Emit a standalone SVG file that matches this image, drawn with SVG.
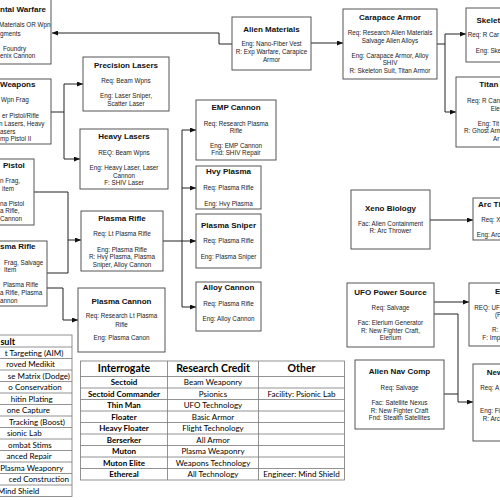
<svg xmlns="http://www.w3.org/2000/svg" width="500" height="500" viewBox="0 0 500 500">
<defs>
<marker id="ah" markerWidth="6" markerHeight="5" refX="6" refY="2.5" orient="auto" markerUnits="userSpaceOnUse"><path d="M0,0 L6,2.5 L0,5 z" fill="#111"/></marker>
<style>
.box{fill:#fff;stroke:#555;stroke-width:1}
.t{font-family:"Liberation Sans",Arial,sans-serif;font-weight:bold;font-size:8px;fill:#111}
.b{font-family:"Liberation Sans",Arial,sans-serif;font-size:6.3px;fill:#222}
.c{text-anchor:middle}
.ln{fill:none;stroke:#222;stroke-width:1}
.tb{fill:none;stroke:#777;stroke-width:0.8}
.th{font-family:Lato,"Open Sans",sans-serif;font-weight:bold;font-size:10.5px;fill:#000;text-anchor:middle}
.td{font-family:Lato,"Open Sans",sans-serif;font-size:8px;fill:#000;text-anchor:middle}
.tdb{font-weight:bold}
.rl{font-family:Lato,"Open Sans",sans-serif;font-size:8px;fill:#000;text-anchor:end}
</style>
</defs>
<rect width="500" height="500" fill="#fff"/>

<g id="connectors">
<polyline class="ln" points="232,44 219,44 219,33 52,33" marker-end="url(#ah)"/>
<polyline class="ln" points="311,43 343,43" marker-end="url(#ah)"/>
<polyline class="ln" points="437,44 445,44 445,34 466,34" marker-end="url(#ah)"/>
<polyline class="ln" points="445,44 445,112 456,112" marker-end="url(#ah)"/>
<polyline class="ln" points="51,112 64,112 64,84 83,84" marker-end="url(#ah)"/>
<polyline class="ln" points="64,112 64,159 80,159" marker-end="url(#ah)"/>
<polyline class="ln" points="34,192 68,192 68,240 81,240" marker-end="url(#ah)"/>
<polyline class="ln" points="47,273 68,273 68,240"/>
<polyline class="ln" points="47,288 63,288 63,320 78,320" marker-end="url(#ah)"/>
<polyline class="ln" points="163,241 196,241" marker-end="url(#ah)"/>
<polyline class="ln" points="182,130 182,307"/>
<polyline class="ln" points="182,130 196,130" marker-end="url(#ah)"/>
<polyline class="ln" points="182,188 196,188" marker-end="url(#ah)"/>
<polyline class="ln" points="182,307 196,307" marker-end="url(#ah)"/>
<polyline class="ln" points="430,220 473,220" marker-end="url(#ah)"/>
<polyline class="ln" points="434,302 469,302" marker-end="url(#ah)"/>
<polyline class="ln" points="434,314 458,314 458,402 473,402" marker-end="url(#ah)"/>
<polyline class="ln" points="444,394 458,394"/>
</g>

<g id="experimental-warfare">
<rect class="box" x="-10" y="-1" width="61" height="65"/>
<text class="t" x="0" y="12">ntal Warfare</text>
<text class="b" x="-1" y="27.2">Materials OR Wpn</text>
<text class="b" x="0" y="35.5">gments</text>
<text class="b" x="3" y="50.9">Foundry</text>
<text class="b" x="0" y="58.2">enix Cannon</text>
</g>

<g id="weapons">
<rect class="box" x="-10" y="79" width="61" height="65"/>
<text class="t" x="0" y="87">Weapons</text>
<text class="b" x="1" y="102.2">Wpn Frag</text>
<text class="b" x="2" y="118.2">er Pistol/Rifle</text>
<text class="b" x="-1" y="126.2">n Lasers, Heavy</text>
<text class="b" x="0" y="133.5">asers</text>
<text class="b" x="0" y="140.9">mp Pistol II</text>
</g>

<g id="pistol">
<rect class="box" x="-10" y="159" width="44" height="66"/>
<text class="t" x="3" y="167.7">Pistol</text>
<text class="b" x="0" y="183.2">n Frag,</text>
<text class="b" x="2" y="191.2">item</text>
<text class="b" x="0" y="205.5">na Pistol</text>
<text class="b" x="0" y="213.2">a Rifle,</text>
<text class="b" x="0" y="221.2">Cannon</text>
</g>

<g id="lt-plasma-rifle">
<rect class="box" x="-10" y="241" width="57" height="65"/>
<text class="t" x="0" y="249.3">sma Rifle</text>
<text class="b" x="4" y="264.5">Frag, Salvage</text>
<text class="b" x="4" y="272.2">Item</text>
<text class="b" x="3" y="287.2">Plasma Rifle</text>
<text class="b" x="0" y="294.9">a Rifle, Plasma</text>
<text class="b" x="0" y="302.5">annon</text>
</g>

<g id="alien-materials">
<rect class="box" x="232" y="17" width="79" height="53"/>
<text class="t c" x="271.5" y="32">Alien Materials</text>
<text class="b c" x="271.5" y="46">Eng: Nano-Fiber Vest</text>
<text class="b c" x="271.5" y="53.5">R: Exp Warfare, Carapice</text>
<text class="b c" x="271.5" y="61.5">Armor</text>
</g>

<g id="carapace-armor">
<rect class="box" x="343" y="9" width="94" height="70"/>
<text class="t c" x="390" y="20">Carapace Armor</text>
<text class="b c" x="390" y="35.2">Req: Research Alien Materials</text>
<text class="b c" x="390" y="42.5">Salvage Alien Alloys</text>
<text class="b c" x="390" y="57.5">Eng: Carapace Armor, Alloy</text>
<text class="b c" x="390" y="64.5">SHIV</text>
<text class="b c" x="390" y="72.5">R: Skeleton Suit, Titan Armor</text>
</g>

<g id="skeleton-suit">
<rect class="box" x="466" y="8" width="60" height="54"/>
<text class="t" x="476.5" y="23">Skelet</text>
<text class="b" x="467.7" y="37.2">Req: R Car</text>
<text class="b" x="475.7" y="53.2">Eng: Ske</text>
</g>

<g id="titan-armor">
<rect class="box" x="456" y="77" width="70" height="70"/>
<text class="t" x="479.3" y="87.3">Titan</text>
<text class="b" x="467" y="103.2">Req: R Can</text>
<text class="b" x="490.7" y="110.5">Ele</text>
<text class="b" x="477.7" y="125.5">Eng: Tit</text>
<text class="b" x="464" y="132.9">R: Ghost Arm</text>
<text class="b" x="493" y="141.2">Ar</text>
</g>

<g id="precision-lasers">
<rect class="box" x="83" y="57" width="86" height="54"/>
<text class="t c" x="126" y="68.3">Precision Lasers</text>
<text class="b c" x="126" y="82.9">Req: Beam Wpns</text>
<text class="b c" x="126" y="98.2">Eng: Laser Sniper,</text>
<text class="b c" x="126" y="106.2">Scatter Laser</text>
</g>

<g id="heavy-lasers">
<rect class="box" x="80" y="129" width="88" height="60"/>
<text class="t c" x="124" y="139">Heavy Lasers</text>
<text class="b c" x="124" y="154.9">REQ: Beam Wpns</text>
<text class="b c" x="124" y="170.2">Eng: Heavy Laser, Laser</text>
<text class="b c" x="124" y="177.9">Cannon</text>
<text class="b c" x="124" y="184.5">F: SHIV Laser</text>
</g>

<g id="plasma-rifle">
<rect class="box" x="81" y="211" width="82" height="60"/>
<text class="t c" x="122" y="220.7">Plasma Rifle</text>
<text class="b c" x="122" y="235.7">Req: Lt Plasma Rifle</text>
<text class="b c" x="122" y="251.5">Eng: Plasma Rifle</text>
<text class="b c" x="122" y="258.9">R: Hvy Plasma, Plasma</text>
<text class="b c" x="122" y="266.5">Sniper, Alloy Cannon</text>
</g>

<g id="plasma-cannon">
<rect class="box" x="78" y="288" width="87" height="64"/>
<text class="t c" x="121.5" y="303.7">Plasma Cannon</text>
<text class="b c" x="121.5" y="318.2">Req: Research Lt Plasma</text>
<text class="b c" x="121.5" y="326.5">Rifle</text>
<text class="b c" x="121.5" y="339.9">Eng: Plasma Canon</text>
</g>

<g id="emp-cannon">
<rect class="box" x="196" y="100" width="80" height="60"/>
<text class="t c" x="236" y="109.7">EMP Cannon</text>
<text class="b c" x="236" y="125.5">Req: Research Plasma</text>
<text class="b c" x="236" y="132.9">Rifle</text>
<text class="b c" x="236" y="147.5">Eng: EMP Cannon</text>
<text class="b c" x="236" y="155.2">Fnd: SHIV Repair</text>
</g>

<g id="hvy-plasma">
<rect class="box" x="196" y="166" width="65" height="43"/>
<text class="t c" x="228.5" y="174">Hvy Plasma</text>
<text class="b c" x="228.5" y="189.9">Req: Plasma Rifle</text>
<text class="b c" x="228.5" y="205.5">Eng: Hvy Plasma</text>
</g>

<g id="plasma-sniper">
<rect class="box" x="196" y="214" width="65" height="54"/>
<text class="t c" x="228.5" y="228.3">Plasma Sniper</text>
<text class="b c" x="228.5" y="243.2">Req: Plasma Rifle</text>
<text class="b c" x="228.5" y="258.5">Eng: Plasma Sniper</text>
</g>

<g id="alloy-cannon">
<rect class="box" x="196" y="282" width="65" height="49"/>
<text class="t c" x="228.5" y="290.3">Alloy Cannon</text>
<text class="b c" x="228.5" y="305.5">Req: Plasma Rifle</text>
<text class="b c" x="228.5" y="320.9">Eng: Alloy Cannon</text>
</g>

<g id="xeno-biology">
<rect class="box" x="351" y="190" width="79" height="59"/>
<text class="t c" x="390.5" y="211">Xeno Biology</text>
<text class="b c" x="390.5" y="225.5">Fac: Alien Containment</text>
<text class="b c" x="390.5" y="233.2">R: Arc Thrower</text>
</g>

<g id="arc-thrower">
<rect class="box" x="473" y="198" width="50" height="42"/>
<text class="t" x="478" y="207.3">Arc Th</text>
<text class="b" x="481.3" y="222.2">Req: X</text>
<text class="b" x="476.7" y="237.2">Eng: Arc</text>
</g>

<g id="ufo-power-source">
<rect class="box" x="347" y="283" width="87" height="64"/>
<text class="t c" x="390.5" y="294.7">UFO Power Source</text>
<text class="b c" x="390.5" y="309.9">Req: Salvage</text>
<text class="b c" x="390.5" y="324.9">Fac: Elerium Generator</text>
<text class="b c" x="390.5" y="332.5">R: New Fighter Craft,</text>
<text class="b c" x="390.5" y="340.2">Elerium</text>
</g>

<g id="elerium">
<rect class="box" x="469" y="283" width="60" height="63"/>
<text class="t" x="495" y="294">E</text>
<text class="b" x="474.3" y="309.9">REQ: UF</text>
<text class="b" x="495" y="317.2">(P</text>
<text class="b" x="492" y="332.2">R: T</text>
<text class="b" x="482.3" y="339.9">F: Imp</text>
</g>

<g id="alien-nav-comp">
<rect class="box" x="355" y="360" width="89" height="69"/>
<text class="t c" x="399.5" y="374.3">Alien Nav Comp</text>
<text class="b c" x="399.5" y="389.5">Req: Salvage</text>
<text class="b c" x="399.5" y="404.9">Fac: Satellite Nexus</text>
<text class="b c" x="399.5" y="412.5">R: New Fighter Craft</text>
<text class="b c" x="399.5" y="420.2">Fnd: Stealth Satellites</text>
</g>

<g id="new-fighter-craft">
<rect class="box" x="473" y="364" width="60" height="77"/>
<text class="t" x="486.7" y="374.7">New</text>
<text class="b" x="480.3" y="389.9">Req: A</text>
<text class="b" x="480" y="412.9">Eng: Fi</text>
<text class="b" x="482.7" y="420.9">R: Arc</text>
</g>

<g id="result-table">
<rect class="tb" x="-2" y="335" width="74" height="161.5"/>
<path class="tb" d="M-2,347H72M-2,358.5H72M-2,370H72M-2,381.5H72M-2,393H72M-2,404.5H72M-2,416H72M-2,427.5H72M-2,439H72M-2,450.5H72M-2,462H72M-2,473.5H72M-2,485H72"/>
<text class="rl" x="15" y="344.5" style="font-weight:bold;font-size:9px">sult</text>
<text class="rl" x="63.3" y="355.6">t Targeting (AIM)</text>
<text class="rl" x="55" y="367.1">roved Medikit</text>
<text class="rl" x="70" y="378.6">se Matrix (Dodge)</text>
<text class="rl" x="61.7" y="390.1">o Conservation</text>
<text class="rl" x="52.7" y="401.6">hitin Plating</text>
<text class="rl" x="50" y="413.1">one Capture</text>
<text class="rl" x="65" y="424.6">Tracking (Boost)</text>
<text class="rl" x="41.7" y="436.1">sionic Lab</text>
<text class="rl" x="51.7" y="447.6">ombat Stims</text>
<text class="rl" x="51.7" y="459.1">anced Repair</text>
<text class="rl" x="63.3" y="470.6">Plasma Weaponry</text>
<text class="rl" x="69" y="482.1">ced Construction</text>
<text class="rl" x="39.3" y="493.6">Mind Shield</text>
</g>

<g id="interrogate-table">
<rect class="tb" x="80.5" y="361" width="264" height="119"/>
<path class="tb" d="M167.5,361V480M258.5,361V480M80.5,376.5H344.5M80.5,388H344.5M80.5,399.5H344.5M80.5,411H344.5M80.5,422.5H344.5M80.5,434H344.5M80.5,445.5H344.5M80.5,457H344.5M80.5,468.5H344.5"/>
<text class="th" x="124" y="372">Interrogate</text>
<text class="th" x="213" y="372">Research Credit</text>
<text class="th" x="301.5" y="372">Other</text>
<text class="td tdb" x="124" y="385.2">Sectoid</text>
<text class="td" x="213" y="385.2">Beam Weaponry</text>
<text class="td tdb" x="124" y="396.7">Sectoid Commander</text>
<text class="td" x="213" y="396.7">Psionics</text>
<text class="td" x="301.5" y="396.7">Facility: Psionic Lab</text>
<text class="td tdb" x="124" y="408.2">Thin Man</text>
<text class="td" x="213" y="408.2">UFO Technology</text>
<text class="td tdb" x="124" y="419.7">Floater</text>
<text class="td" x="213" y="419.7">Basic Armor</text>
<text class="td tdb" x="124" y="431.2">Heavy Floater</text>
<text class="td" x="213" y="431.2">Flight Technology</text>
<text class="td tdb" x="124" y="442.7">Berserker</text>
<text class="td" x="213" y="442.7">All Armor</text>
<text class="td tdb" x="124" y="454.2">Muton</text>
<text class="td" x="213" y="454.2">Plasma Weaponry</text>
<text class="td tdb" x="124" y="465.7">Muton Elite</text>
<text class="td" x="213" y="465.7">Weapons Technology</text>
<text class="td tdb" x="124" y="477.2">Ethereal</text>
<text class="td" x="213" y="477.2">All Technology</text>
<text class="td" x="301.5" y="477.2">Engineer: Mind Shield</text>
</g>
</svg>
